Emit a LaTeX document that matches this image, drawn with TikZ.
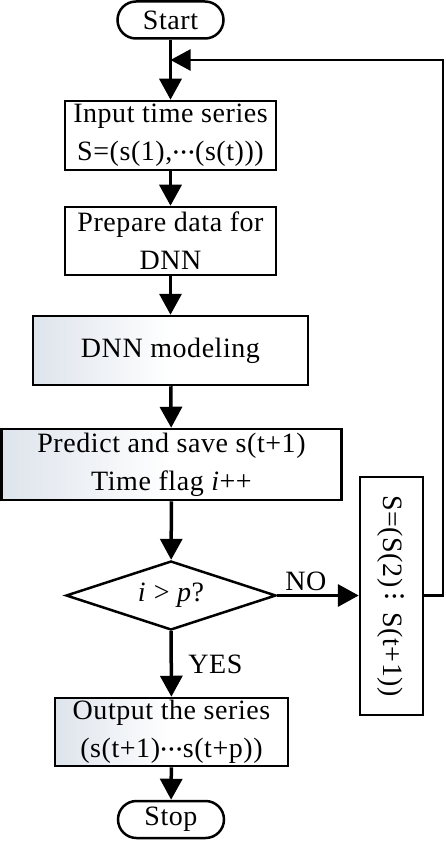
\documentclass[tikz,border=0pt]{standalone}
\usepackage{fontspec}
\setmainfont{Liberation Serif}[LetterSpace=2]
\usetikzlibrary{shapes.geometric,arrows.meta}
\definecolor{boxtint}{RGB}{222,228,236}
\newcommand{\dotsrow}{\kern1pt\raisebox{3pt}{\fontsize{15}{15}\selectfont\textbullet\kern2.5pt\textbullet\kern2.5pt\textbullet}\kern1pt}
\newcommand{\dotscol}{\rotatebox{90}{\dotsrow}}
\tikzset{
  process/.style={draw,line width=2.5pt,align=center,inner sep=0pt,fill=white},
  shaded/.style={left color=boxtint,right color=white,middle color=white},
  terminal/.style={draw,line width=2.5pt,rounded corners=18.5pt,minimum width=106pt,minimum height=37pt,inner sep=0pt},
  decision/.style={draw,diamond,line width=2.5pt,minimum width=210pt,minimum height=69pt,inner sep=0pt,aspect=3},
  flow/.style={line width=3.5pt,-{Triangle[length=21pt,width=22pt]}},
  loopback/.style={line width=2.5pt,-{Triangle[length=20pt,width=21pt]}}
}
\begin{document}
\begin{tikzpicture}[x=1pt,y=-1pt,font=\fontsize{28}{38}\selectfont]
        \useasboundingbox (0,0) rectangle (445,842);
        % main column
        \node[terminal] (start) at (170.5,20){Start};
        \node[process,minimum width=211pt,minimum height=69pt] (input) at (170.5,135.5){Input time series\\S=(s(1),\dotsrow(s(t)))};
        \node[process,minimum width=211pt,minimum height=68pt] (prepare) at (170.5,241){Prepare data for\\DNN};
        \node[process,shaded,minimum width=275pt,minimum height=69pt] (dnn) at (170.5,350.5){DNN modeling};
        \node[process,shaded,minimum width=340pt,minimum height=71pt] (predict) at (171.5,464.5){Predict and save s(t+1)\\Time flag \textit{i}++};
        \node[decision] (check) at (171,595.5){\textit{i} > \textit{p}?};
        \node[process,shaded,minimum width=233pt,minimum height=68pt] (output) at (171.5,732){Output the series\\(s(t+1)\dotsrow s(t+p))};
        \node[terminal] (stop) at (171,819.5){Stop};
        % shift box on the right
        \node[process,minimum width=63pt,minimum height=238pt] (shift) at (391.5,596){};
        \node[rotate=-90] (shifttext) at (shift){S=(S(2) \dotscol\ S(t+1))};
        \coordinate (merge) at (start.south |- 0,60);
        \coordinate (c1) at (443,595.5);
        \coordinate (c2) at (443,60);
        \draw[flow] (start) -- (input);
        \draw[flow] (input) -- (prepare);
        \draw[flow] (prepare) -- (dnn);
        \draw[flow] (dnn) -- (predict);
        \draw[flow] (predict) -- (check);
        \draw[flow] (check) -- node[right,xshift=12pt]{YES} (output);
        \draw[flow] (output) -- (stop);
        \draw[flow] (check.east) -- node[above,pos=0.35]{NO} (check.east -| shift.west);
        \draw[loopback] (check.east -| shift.east) -- (c1) -- (c2) -- (merge);
\end{tikzpicture}
\end{document}
